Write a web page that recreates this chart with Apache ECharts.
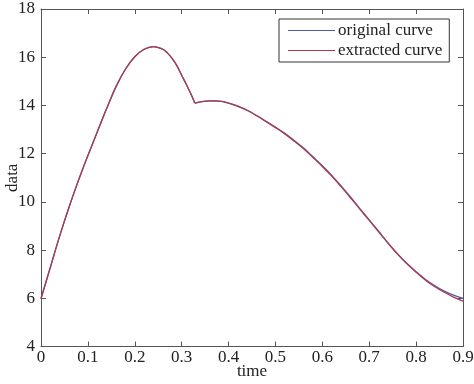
<!DOCTYPE html>
<html>
<head>
<meta charset="utf-8">
<script src="https://cdn.jsdelivr.net/npm/echarts@6/dist/echarts.min.js"></script>
<style>html,body{margin:0;padding:0;background:#fff}#c{width:474px;height:384px}</style>
</head>
<body>
<div id="c"></div>
<script>
const time = [0, 0.02, 0.04, 0.06, 0.08, 0.10, 0.12, 0.14, 0.16, 0.18, 0.20, 0.22, 0.24, 0.26, 0.27, 0.28, 0.29, 0.30, 0.31, 0.32, 0.328, 0.34, 0.36, 0.38, 0.40, 0.42, 0.44, 0.46, 0.48, 0.50, 0.52, 0.54, 0.56, 0.58, 0.60, 0.62, 0.64, 0.66, 0.68, 0.70, 0.72, 0.74, 0.76, 0.78, 0.80, 0.82, 0.84, 0.86, 0.88, 0.90];
const originalCurve = [6.0, 7.3, 8.6, 9.8, 10.9, 11.92, 12.9, 13.87, 14.78, 15.5, 16.02, 16.33, 16.44, 16.33, 16.17, 15.94, 15.64, 15.25, 14.87, 14.46, 14.1, 14.15, 14.19, 14.18, 14.1, 13.97, 13.8, 13.58, 13.34, 13.1, 12.84, 12.54, 12.23, 11.87, 11.5, 11.1, 10.66, 10.2, 9.72, 9.25, 8.78, 8.3, 7.85, 7.45, 7.1, 6.78, 6.52, 6.3, 6.13, 6.0];
const extractedCurve = [5.97, 7.28, 8.59, 9.79, 10.89, 11.92, 12.9, 13.87, 14.78, 15.5, 16.02, 16.33, 16.44, 16.33, 16.17, 15.94, 15.64, 15.25, 14.87, 14.46, 14.1, 14.15, 14.19, 14.18, 14.1, 13.96, 13.79, 13.57, 13.33, 13.08, 12.82, 12.52, 12.2, 11.84, 11.47, 11.07, 10.63, 10.17, 9.7, 9.23, 8.76, 8.29, 7.84, 7.44, 7.08, 6.75, 6.48, 6.25, 6.05, 5.88];
const kinkTime = 0.328;
const xTicks = ['0', '0.1', '0.2', '0.3', '0.4', '0.5', '0.6', '0.7', '0.8', '0.9'];
const yTicks = ['4', '6', '8', '10', '12', '14', '16', '18'];
const seriesNames = ['original curve', 'extracted curve'];

const font = 'Liberation Serif';
const axisColor = '#555';
const textColor = '#222';
const colors = ['#4a5ca8', '#ad3a52'];
const chart = echarts.init(document.getElementById('c'), null, {renderer: 'canvas'});
const kinkIdx = time.indexOf(kinkTime);
const pairs = (arr, a, b) => time.slice(a, b).map((t, i) => [t, arr[a + i]]);
const xFmt = v => { const s = (Math.round(v * 10) / 10).toString(); return xTicks.includes(s) ? s : ''; };
const yFmt = v => { const s = String(v); return yTicks.includes(s) ? s : ''; };
const baseAxis = {
  axisLine: {show: true, onZero: false, lineStyle: {color: axisColor, width: 1}},
  axisTick: {show: true, inside: true, length: 5, lineStyle: {color: axisColor}},
  splitLine: {show: false}
};
const curves = [originalCurve, extractedCurve];
const series = [];
curves.forEach((arr, k) => {
  [[0, kinkIdx + 1], [kinkIdx, time.length]].forEach(([a, b]) => {
    series.push({
      name: seriesNames[k], type: 'line', data: pairs(arr, a, b), smooth: 0.35, showSymbol: false,
      lineStyle: {color: colors[k], width: 1.3}, itemStyle: {color: colors[k]}, z: 2 + k
    });
  });
});
chart.setOption({
  animation: false,
  backgroundColor: '#fff',
  grid: {left: 41, right: 11, top: 9, bottom: 37.5, outerBoundsMode: 'none', containLabel: false},
  legend: {
    orient: 'vertical', left: 279, top: 19,
    data: seriesNames.map(n => ({name: n, icon: 'rect'})),
    itemWidth: 47, itemHeight: 1.2, itemGap: 3,
    padding: [3, 7, 3, 9],
    borderColor: '#333', borderWidth: 1, backgroundColor: '#fff',
    textStyle: {fontFamily: font, fontSize: 17, color: textColor, padding: [0, 0, 0, -2]}
  },
  xAxis: [
    Object.assign({}, baseAxis, {
      type: 'value', min: 0, max: 0.9, interval: 0.1, position: 'bottom',
      name: 'time', nameLocation: 'middle', nameGap: 17, nameMoveOverlap: false,
      nameTextStyle: {fontFamily: font, fontSize: 17, color: textColor},
      axisLabel: {fontFamily: font, fontSize: 17, color: textColor, margin: 3, formatter: xFmt, showMaxLabel: true}
    }),
    Object.assign({}, baseAxis, {
      type: 'value', min: 0, max: 0.9, interval: 0.1, position: 'top',
      axisLabel: {show: false}
    })
  ],
  yAxis: [
    Object.assign({}, baseAxis, {
      type: 'value', min: 4, max: 18, interval: 2, position: 'left',
      name: 'data', nameLocation: 'middle', nameGap: 20, nameMoveOverlap: false,
      nameTextStyle: {fontFamily: font, fontSize: 17, color: textColor},
      axisLabel: {fontFamily: font, fontSize: 17, color: textColor, margin: 6, formatter: yFmt}
    }),
    Object.assign({}, baseAxis, {
      type: 'value', min: 4, max: 18, interval: 2, position: 'right',
      axisLabel: {show: false}
    })
  ],
  series: series
});
</script>
</body>
</html>
